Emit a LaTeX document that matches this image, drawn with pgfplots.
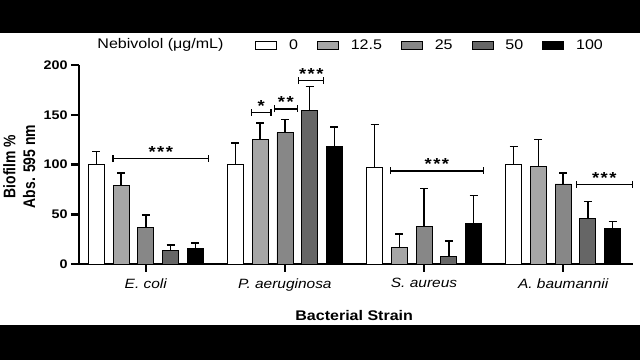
\documentclass[border=0pt]{standalone}
\usepackage{graphicx}
\usepackage{pgfplots}
\pgfplotsset{compat=1.18}
\usepackage{fontspec}
\setmainfont{Liberation Sans}[FakeStretch=1.15]
\newfontfamily\plainsans{Liberation Sans}
\usetikzlibrary{arrows.meta}
\definecolor{cA}{gray}{1}
\definecolor{cB}{gray}{0.65}
\definecolor{cC}{gray}{0.53}
\definecolor{cD}{gray}{0.40}
\definecolor{cE}{gray}{0.0}
\pgfplotsset{
  mybar/.style={fill=#1, draw=black, line width=0.8bp,
    error bars/.cd, y dir=plus, y explicit,
    error bar style={line width=1.5bp, black},
    error mark options={rotate=90, mark size=4bp, line width=1.5bp, black},
    /pgfplots/.cd,
    legend image code/.code={\draw[##1,/tikz/.cd,line width=0.8bp] (0bp,-4bp) rectangle (21bp,4bp);}},
}
\begin{document}
\begin{tikzpicture}
\path[use as bounding box] (0,0) rectangle (640bp,360bp);
\fill[black] (0,0) rectangle (640bp,35bp);
\fill[black] (0,327bp) rectangle (640bp,360bp);
\node[font=\fontsize{14}{16}\selectfont] at (160.5bp,315bp) {Nebivolol (μg/mL)};
\begin{axis}[
  at={(79bp,96bp)}, anchor=south west,
  scale only axis, width=553.7bp, height=199bp,
  xmin=-0.48, xmax=3.5, ymin=0, ymax=200,
  clip=false,
  axis x line*=bottom, axis y line*=left,
  axis line style={line width=2.5bp, black, -},
  ybar=8.75bp, bar width=16bp,
  xtick={0,1,2,3},
  xticklabels={E. coli, P. aeruginosa, S. aureus, A. baumannii},
  ytick={0,50,100,150,200},
  tick align=outside, major tick length=8bp,
  tick style={black, line width=2.5bp},
  /pgf/number format/assume math mode=true,
  yticklabel style={font=\bfseries\fontsize{12.5}{14}\selectfont},
  xticklabel style={font=\itshape\fontsize{13.5}{15}\selectfont, yshift=-3bp},
  xlabel={Bacterial Strain},
  xlabel style={at={(axis description cs:0.497,-0.258)}, anchor=center, font=\bfseries\fontsize{14}{16}\selectfont},
  ylabel={\plainsans\bfseries\fontsize{14}{16.5}\selectfont\scalebox{1}[1.2]{\begin{tabular}{@{}c@{}}Biofilm \%\\Abs. 595 nm\end{tabular}}},
  ylabel style={at={(axis description cs:-0.104,0.49)}, anchor=center},
  legend style={at={(axis description cs:0.318,1.097)}, anchor=west, draw=none, fill=none,
    font=\fontsize{14}{16}\selectfont, inner sep=0pt, nodes={inner sep=0pt},
    /tikz/every odd column/.append style={column sep=12bp},
    /tikz/every even column/.append style={column sep=19bp}},
  legend columns=-1,
]
\addplot[mybar=cA] coordinates {(0,100) +- (0,13) (1,100) +- (0,21.5) (2,96.6) +- (0,43.4) (3,100) +- (0,18)};
\addplot[mybar=cB] coordinates {(0,79) +- (0,12.6) (1,125.5) +- (0,16.2) (2,16.5) +- (0,13.5) (3,98.3) +- (0,26.7)};
\addplot[mybar=cC] coordinates {(0,36.4) +- (0,12.6) (1,132) +- (0,13) (2,38) +- (0,38) (3,80.5) +- (0,11.1)};
\addplot[mybar=cD] coordinates {(0,13.5) +- (0,5.5) (1,154.5) +- (0,24) (2,7.7) +- (0,15.3) (3,46) +- (0,17)};
\addplot[mybar=cE] coordinates {(0,16) +- (0,5) (1,118) +- (0,19.7) (2,40.4) +- (0,28.3) (3,35.7) +- (0,7)};
\legend{0,12.5,25,50,100}
\tikzset{brk/.style={line width=1.2bp, black, {Bar[width=7bp]}-{Bar[width=7bp]}},
  st/.style={midway, anchor=base, yshift=1bp, inner sep=0pt, font=\bfseries\fontsize{16}{16}\selectfont}}
\draw[brk] (axis cs:-0.24,105.8) -- (axis cs:0.455,105.8) node[st] {*\hspace{1.5bp}*\hspace{1.5bp}*};
\draw[brk] (axis cs:0.754,152.5) -- (axis cs:0.905,152.5) node[st] {*};
\draw[brk] (axis cs:0.922,155.8) -- (axis cs:1.092,155.8) node[st] {*\hspace{1.5bp}*};
\draw[brk] (axis cs:1.096,184.2) -- (axis cs:1.283,184.2) node[st] {*\hspace{1.5bp}*\hspace{1.5bp}*};
\draw[brk] (axis cs:1.755,93.5) -- (axis cs:2.43,93.5) node[st] {*\hspace{1.5bp}*\hspace{1.5bp}*};
\draw[brk] (axis cs:3.089,80.1) -- (axis cs:3.503,80.1) node[st] {*\hspace{1.5bp}*\hspace{1.5bp}*};
\end{axis}
\end{tikzpicture}
\end{document}
